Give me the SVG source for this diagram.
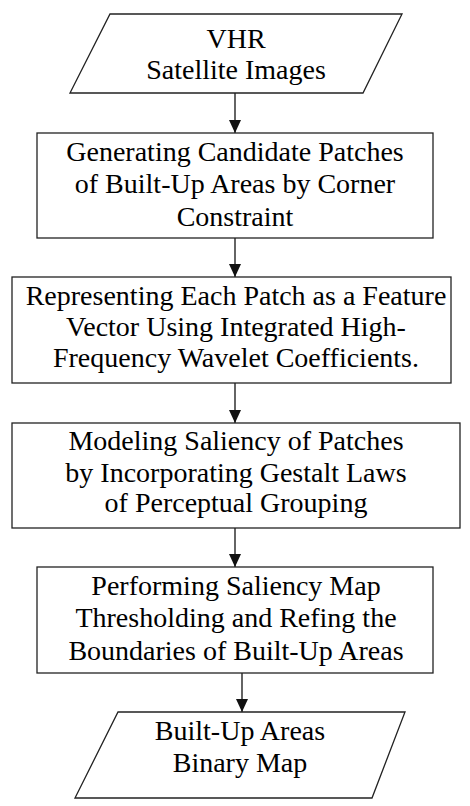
<svg xmlns="http://www.w3.org/2000/svg" width="470" height="806" viewBox="0 0 470 806">
<style>
.shape{fill:#fff;stroke:#222;stroke-width:1.3}
.conn{stroke:#111;stroke-width:1.3;fill:none}
text.lbl{font-family:'Liberation Serif',serif !important;font-size:28px;text-anchor:middle;fill:#000}
</style>
<defs>
<marker id="ah" markerUnits="userSpaceOnUse" markerWidth="13" markerHeight="12" refX="13" refY="6" orient="auto">
<path d="M0,0 L13,6 L0,12 z" fill="#111"/>
</marker>
</defs>
<rect width="470" height="806" fill="#fff"/>
<g id="connectors">
<line class="conn" x1="235" y1="93" x2="235" y2="133" marker-end="url(#ah)"/>
<line class="conn" x1="235" y1="238" x2="235" y2="277" marker-end="url(#ah)"/>
<line class="conn" x1="235" y1="383" x2="235" y2="423" marker-end="url(#ah)"/>
<line class="conn" x1="235" y1="528" x2="235" y2="567" marker-end="url(#ah)"/>
<line class="conn" x1="242" y1="673" x2="242" y2="712" marker-end="url(#ah)"/>
</g>
<g id="input">
<polygon class="shape" points="110,14 402,14 363,93 70,93"/>
<text class="lbl" style="font-family:'Liberation Serif',serif" x="236" y="48">VHR</text>
<text class="lbl" style="font-family:'Liberation Serif',serif" x="236" y="79">Satellite Images</text>
</g>
<g id="step1">
<rect class="shape" x="37" y="133" width="396" height="105"/>
<text class="lbl" style="font-family:'Liberation Serif',serif" x="235" y="160.5">Generating Candidate Patches</text>
<text class="lbl" style="font-family:'Liberation Serif',serif" x="235" y="193.3">of Built-Up Areas by Corner</text>
<text class="lbl" style="font-family:'Liberation Serif',serif" x="235" y="226">Constraint</text>
</g>
<g id="step2">
<rect class="shape" x="12" y="277" width="439" height="106"/>
<text class="lbl" style="font-family:'Liberation Serif',serif" x="236" y="305">Representing Each Patch as a Feature</text>
<text class="lbl" style="font-family:'Liberation Serif',serif" x="236" y="336">Vector Using Integrated High-</text>
<text class="lbl" style="font-family:'Liberation Serif',serif" x="236" y="367">Frequency Wavelet Coefficients.</text>
</g>
<g id="step3">
<rect class="shape" x="12" y="423" width="448" height="105"/>
<text class="lbl" style="font-family:'Liberation Serif',serif" x="236" y="450">Modeling Saliency of Patches</text>
<text class="lbl" style="font-family:'Liberation Serif',serif" x="236" y="481.7">by Incorporating Gestalt Laws</text>
<text class="lbl" style="font-family:'Liberation Serif',serif" x="236" y="511.7">of Perceptual Grouping</text>
</g>
<g id="step4">
<rect class="shape" x="37" y="567" width="396" height="106"/>
<text class="lbl" style="font-family:'Liberation Serif',serif" x="236" y="595">Performing Saliency Map</text>
<text class="lbl" style="font-family:'Liberation Serif',serif" x="236" y="627.3">Thresholding and Refing the</text>
<text class="lbl" style="font-family:'Liberation Serif',serif" x="236" y="660">Boundaries of Built-Up Areas</text>
</g>
<g id="output">
<polygon class="shape" points="118,712 405,712 372,798 75,798"/>
<text class="lbl" style="font-family:'Liberation Serif',serif" x="240" y="740">Built-Up Areas</text>
<text class="lbl" style="font-family:'Liberation Serif',serif" x="240" y="771.7">Binary Map</text>
</g>
</svg>
